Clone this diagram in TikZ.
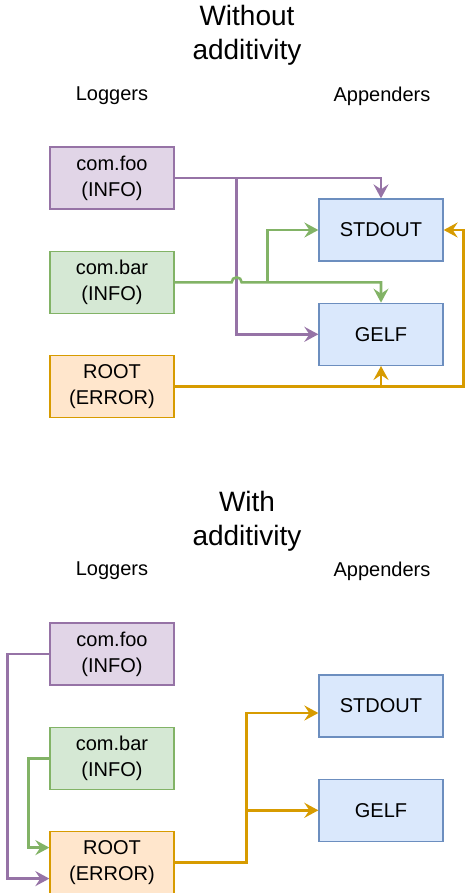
\documentclass[tikz,border=0pt]{standalone}
\usepackage{fontspec}
\setmainfont{Liberation Sans}
\usetikzlibrary{arrows.meta,positioning}

\definecolor{pline}{HTML}{9673A6}
\definecolor{pfill}{HTML}{E1D5E7}
\definecolor{gline}{HTML}{82B366}
\definecolor{gfill}{HTML}{D5E8D4}
\definecolor{oline}{HTML}{D79B00}
\definecolor{ofill}{HTML}{FFE6CC}
\definecolor{bline}{HTML}{6C8EBF}
\definecolor{bfill}{HTML}{DAE8FC}

\begin{document}
\begin{tikzpicture}[
  x=1pt, y=1pt,
  font=\fontsize{20}{26}\selectfont,
  node distance=41pt,
  box/.style={draw, line width=1.3pt, align=center, inner sep=0pt,
              minimum width=124pt, minimum height=62pt},
  pbox/.style={box, draw=pline, fill=pfill},
  gbox/.style={box, draw=gline, fill=gfill},
  obox/.style={box, draw=oline, fill=ofill},
  bbox/.style={box, draw=bline, fill=bfill},
  title/.style={align=center, inner sep=0pt, font=\fontsize{28}{34}\selectfont},
  arr/.style={line width=2.6pt, -{Stealth[length=14pt, width=15pt, inset=5pt]}},
  parr/.style={arr, draw=pline},
  garr/.style={arr, draw=gline},
  oarr/.style={arr, draw=oline}
]
  \useasboundingbox (0,0) rectangle (474,-893);

  % without additivity
  \node[title] (titleA) at (247,-35) {Without\\ additivity};
  \node (logA) at (112,-96) {Loggers};
  \node (appA) at (382,-96) {Appenders};
  \node[pbox] (fooA) at (112,-178) {com.foo\\ (INFO)};
  \node[gbox, below=of fooA] (barA) {com.bar\\ (INFO)};
  \node[obox, below=of barA] (rootA) {ROOT\\ (ERROR)};
  \node[bbox] (stdoutA) at (381,-230) {STDOUT};
  \node[bbox, below=of stdoutA] (gelfA) {GELF};

  \draw[parr] (fooA.east) -| (stdoutA.north);
  \draw[parr] (fooA.east) -- ++(62,0) |- (gelfA.west);
  \draw[garr] (barA.east) -- ++(57,0)
    arc[start angle=180, end angle=0, radius=5] -| (gelfA.north);
  \draw[garr] ([xshift=93pt]barA.east) |- (stdoutA.west);
  \draw[oarr] (rootA.east) -| (gelfA.south);
  \draw[oarr] (rootA.east) -- ++(289,0) |- (stdoutA.east);

  % with additivity
  \node[title] (titleB) at (247,-521) {With\\ additivity};
  \node (logB) at (112,-571) {Loggers};
  \node (appB) at (382,-571) {Appenders};
  \node[pbox] (fooB) at (112,-654) {com.foo\\ (INFO)};
  \node[gbox, below=of fooB] (barB) {com.bar\\ (INFO)};
  \node[obox, below=of barB] (rootB) {ROOT\\ (ERROR)};
  \node[bbox] (stdoutB) at (381,-706) {STDOUT};
  \node[bbox, below=of stdoutB] (gelfB) {GELF};

  \draw[parr] (fooB.west) -- ++(-42,0) |- ([yshift=-16pt]rootB.west);
  \draw[garr] (barB.west) -- ++(-21,0) |- ([yshift=15pt]rootB.west);
  \draw[oarr] (rootB.east) -- ++(72,0) |- ([yshift=-7pt]stdoutB.west);
  \draw[oarr] (rootB.east) -- ++(72,0) |- (gelfB.west);
\end{tikzpicture}
\end{document}
